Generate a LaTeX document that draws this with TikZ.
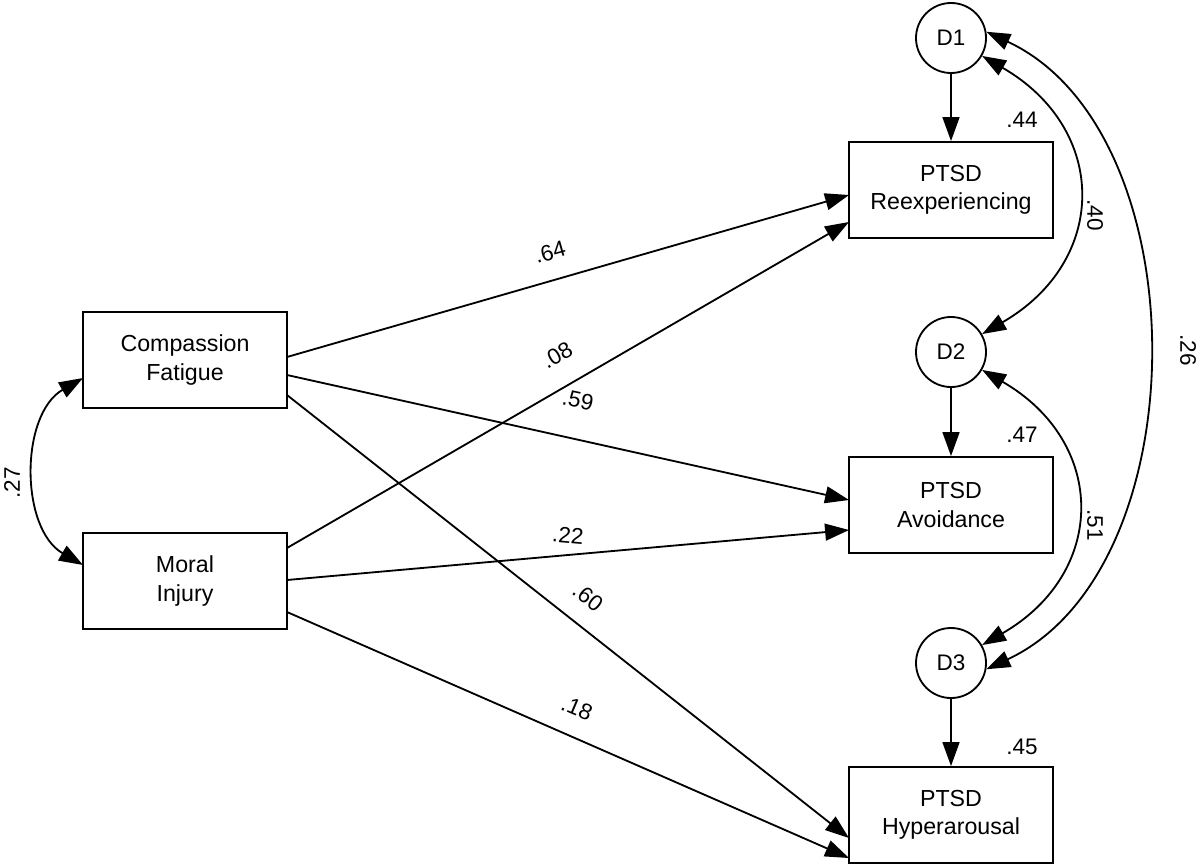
\documentclass[tikz,border=0pt]{standalone}
\usepackage{fontspec}
\setmainfont{Liberation Sans}
\usetikzlibrary{arrows.meta}
\begin{document}
\begin{tikzpicture}[x=0.025cm,y=-0.025cm,
  box/.style={draw,line width=1.3pt,minimum width=5.1cm,minimum height=2.4cm,align=center,font=\fontsize{16.5}{20}\selectfont},
  circ/.style={draw,circle,line width=1.3pt,minimum size=1.75cm,inner sep=0pt,font=\fontsize{16}{19}\selectfont},
  arr/.style={line width=1.3pt,-{Triangle[length=17pt,width=12pt]}},
  darr/.style={line width=1.3pt,{Triangle[length=17pt,width=12pt]}-{Triangle[length=17pt,width=12pt]}},
  lab/.style={font=\fontsize{16}{19}\selectfont,inner sep=1pt}]
\useasboundingbox (0,0) rectangle (1200,867);
\node[box] (cf) at (185,360) {Compassion\\Fatigue};
\node[box] (mi) at (185,581) {Moral\\Injury};
\node[box] (re) at (951,190) {PTSD\\Reexperiencing};
\node[box] (av) at (951,505) {PTSD\\Avoidance};
\node[box] (hy) at (951,815) {PTSD\\Hyperarousal};
\node[circ] (d1) at (951,38) {D1};
\node[circ] (d2) at (951,352) {D2};
\node[circ] (d3) at (951,663) {D3};
\draw[arr] (d1) -- (re);
\draw[arr] (d2) -- (av);
\draw[arr] (d3) -- (hy);
\coordinate (cf1) at (287,357); \coordinate (cf2) at (287,375); \coordinate (cf3) at (287,395);
\coordinate (mi1) at (287,548); \coordinate (mi2) at (287,580); \coordinate (mi3) at (287,612);
\coordinate (re1) at (849,195); \coordinate (re2) at (849,222);
\coordinate (av1) at (849,500); \coordinate (av2) at (849,530);
\coordinate (hy1) at (849,838); \coordinate (hy2) at (849,858);
\draw[arr] (cf1) -- (re1);
\draw[arr] (cf2) -- (av1);
\draw[arr] (cf3) -- (hy1);
\draw[arr] (mi1) -- (re2);
\draw[arr] (mi2) -- (av2);
\draw[arr] (mi3) -- (hy2);
\node[lab,rotate=16] at (550,252) {.64};
\node[lab,rotate=30] at (557,355) {.08};
\node[lab,rotate=-12] at (578,400) {.59};
\node[lab,rotate=-5] at (568,535) {.22};
\node[lab,rotate=-38] at (588,597) {.60};
\node[lab,rotate=-23] at (577,708) {.18};
\node[lab] at (1022,120) {.44};
\node[lab] at (1022,435) {.47};
\node[lab] at (1022,747) {.45};
\node[lab,rotate=-90] at (1095,215) {.40};
\node[lab,rotate=-90] at (1095,525) {.51};
\node[lab,rotate=-90] at (1188,350) {.26};
\node[lab,rotate=90] at (12,483) {.27};
\draw[darr] (d1.-30) to[out=-30,in=30,looseness=1.35] (d2.30);
\draw[darr] (d2.-30) to[out=-30,in=30,looseness=1.35] (d3.30);
\draw[darr] (d1.10) to[out=-25,in=25,looseness=0.95] (d3.-10);
\draw[darr] (83,378) to[out=-150,in=150] (83,565);
\end{tikzpicture}
\end{document}
